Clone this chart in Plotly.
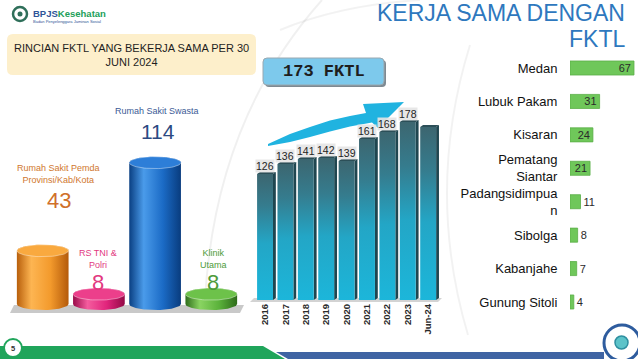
import plotly.graph_objects as go
import numpy as np

W, H = 638, 359

# ---------------- data ----------------
jenis = ["Rumah Sakit Pemda Provinsi/Kab/Kota", "RS TNI & Polri", "Rumah Sakit Swasta", "Klinik Utama"]
jenis_nilai = [43, 8, 114, 8]

tahun = ["2016", "2017", "2018", "2019", "2020", "2021", "2022", "2023", "Jun-24"]
tahun_nilai = [126, 136, 141, 142, 139, 161, 168, 178, 173]
tahun_label = ["126", "136", "141", "142", "139", "161", "168", "178", ""]

kota = ["Medan", "Lubuk Pakam", "Kisaran", "Pematang Siantar", "Padangsidimpuan",
        "Sibolga", "Kabanjahe", "Gunung Sitoli"]
kota_tick = ["Medan", "Lubuk Pakam", "Kisaran", "Pematang<br>Siantar", "Padangsidimpua<br>n",
             "Sibolga", "Kabanjahe", "Gunung Sitoli"]
kota_nilai = [67, 31, 24, 21, 11, 8, 7, 4]

total_fktl = "173 FKTL"
judul = ["KERJA SAMA DENGAN", "FKTL"]
subjudul = "RINCIAN FKTL YANG BEKERJA SAMA PER 30<br>JUNI 2024"


def X(p):
    return p / W


def Y(p):
    return 1 - p / H


SANS = "Liberation Sans, Arial, sans-serif"

fig = go.Figure()

# ---------------- left: cylinders ----------------
cyl_scales = [
    [[0, "#B85F0C"], [0.28, "#FDB552"], [0.65, "#F39A2C"], [1, "#B45A0A"]],
    [[0, "#9A0C4A"], [0.28, "#F45C9E"], [0.65, "#E1247C"], [1, "#930A46"]],
    [[0, "#0A3F82"], [0.28, "#4A9BEA"], [0.65, "#1B6BC6"], [1, "#093C7E"]],
    [[0, "#2F6E1C"], [0.28, "#8AD462"], [0.65, "#5BB23B"], [1, "#2E6C1A"]],
]
cap_colors = ["#F9A93F", "#EC3F8B", "#2D7ED8", "#6DC24A"]
hw, ry = 0.46, 4.84
t = np.linspace(0, np.pi, 40)
ta = np.linspace(0, 2 * np.pi, 80)
for i, v in enumerate(jenis_nilai):
    bx = i - hw * np.cos(t)
    by = -ry * np.sin(t)
    tx = i + hw * np.cos(t)
    ty = v + ry * np.sin(t)
    xs = np.concatenate([bx, tx, [bx[0]]])
    ys = np.concatenate([by, ty, [by[0]]])
    fig.add_trace(go.Scatter(x=xs, y=ys, fill="toself", mode="lines", line=dict(width=0),
                             fillgradient=dict(type="horizontal", colorscale=cyl_scales[i]),
                             hoverinfo="skip", showlegend=False, xaxis="x", yaxis="y"))
    fig.add_trace(go.Scatter(x=i + hw * np.cos(ta), y=v + ry * np.sin(ta), fill="toself",
                             mode="lines", line=dict(width=0.8, color="rgba(255,255,255,0.5)"),
                             fillcolor=cap_colors[i], hoverinfo="skip", showlegend=False,
                             xaxis="x", yaxis="y"))

# ---------------- middle: yearly bars ----------------
bw = 0.39
for i, v in enumerate(tahun_nilai):
    fig.add_trace(go.Scatter(x=[i + bw, i + bw + 0.14, i + bw + 0.14, i + bw, i + bw],
                             y=[0, 2, v + 2, v, 0], fill="toself", mode="lines",
                             line=dict(width=0), fillcolor="#1F4650",
                             hoverinfo="skip", showlegend=False, xaxis="x2", yaxis="y2"))
    fig.add_trace(go.Scatter(x=[i - bw, i + bw, i + bw + 0.14, i - bw + 0.14, i - bw],
                             y=[v, v, v + 2, v + 2, v], fill="toself", mode="lines",
                             line=dict(width=0), fillcolor="#2C4F58",
                             hoverinfo="skip", showlegend=False, xaxis="x2", yaxis="y2"))
    fig.add_trace(go.Scatter(x=[i - bw, i + bw, i + bw, i - bw, i - bw],
                             y=[0, 0, v, v, 0], fill="toself", mode="lines", line=dict(width=0),
                             fillgradient=dict(type="vertical",
                                               colorscale=[[0, "#1CB6DA"], [0.45, "#23A6C6"],
                                                           [0.75, "#357C8E"], [1, "#3C6670"]]),
                             hoverinfo="skip", showlegend=False, xaxis="x2", yaxis="y2"))

# ---------------- right: horizontal bars ----------------
pos = ["inside" if v > 15 else "outside" for v in kota_nilai]
fig.add_trace(go.Bar(x=kota_nilai, y=list(range(len(kota))), orientation="h",
                     marker=dict(color="#6FC75A", line=dict(color="#5BAE48", width=0.8)),
                     width=0.42, text=[str(v) for v in kota_nilai], textposition=pos,
                     insidetextanchor="end", textangle=0,
                     textfont=dict(family=SANS, size=11, color="#2A2A2A"),
                     cliponaxis=False, hovertext=kota, showlegend=False,
                     xaxis="x3", yaxis="y3"))

annotations = []
for i, (v, lab) in enumerate(zip(tahun_nilai, tahun_label)):
    if lab:
        annotations.append(dict(x=i, y=v + 1, xref="x2", yref="y2", text=lab, showarrow=False,
                                yanchor="bottom", xanchor="center", bgcolor="rgba(228,228,228,0.9)",
                                borderpad=0, font=dict(family=SANS, size=10.5, color="#1E1E1E")))

cyl_labels = [
    dict(x=X(157), y=Y(111), text="Rumah Sakit Swasta", font=dict(family=SANS, size=9, color="#3C5A96")),
    dict(x=X(158), y=Y(131), text=str(jenis_nilai[2]), font=dict(family=SANS, size=21, color="#2C4A82")),
    dict(x=X(58), y=Y(174), text="Rumah Sakit Pemda<br>Provinsi/Kab/Kota",
         font=dict(family=SANS, size=9, color="#D0772E")),
    dict(x=X(59), y=Y(200), text=str(jenis_nilai[0]), font=dict(family=SANS, size=22, color="#D0702A")),
    dict(x=X(98), y=Y(259), text="RS TNI &amp;<br>Polri", font=dict(family=SANS, size=9, color="#E2397F")),
    dict(x=X(98), y=Y(282), text=str(jenis_nilai[1]), font=dict(family=SANS, size=22, color="#E2397F")),
    dict(x=X(213), y=Y(259), text="Klinik<br>Utama", font=dict(family=SANS, size=9, color="#4E9B3A")),
    dict(x=X(213), y=Y(282), text=str(jenis_nilai[3]), font=dict(family=SANS, size=22, color="#4E9B3A")),
]
for a in cyl_labels:
    a.update(xref="paper", yref="paper", showarrow=False, xanchor="center", yanchor="middle")
annotations += cyl_labels

annotations += [
    dict(x=X(627), y=Y(13), text=judul[0], xref="paper", yref="paper", showarrow=False,
         xanchor="right", yanchor="middle", font=dict(family=SANS, size=23, color="#2E78BE")),
    dict(x=X(627), y=Y(39), text=judul[1], xref="paper", yref="paper", showarrow=False,
         xanchor="right", yanchor="middle", font=dict(family=SANS, size=23, color="#2E78BE")),
    dict(x=X(131), y=Y(54.5), text=subjudul, xref="paper", yref="paper", showarrow=False,
         xanchor="center", yanchor="middle", font=dict(family=SANS, size=11, color="#1E1E1E")),
    dict(x=X(324), y=Y(71.5), text="<b>" + total_fktl + "</b>", xref="paper", yref="paper", showarrow=False,
         xanchor="center", yanchor="middle", font=dict(family="Liberation Mono, Courier New, monospace",
                                                         size=17, color="#1E1E1E")),
    dict(x=X(31), y=Y(14), text="<b><span style='color:#2F5597'>BPJS</span><span style='color:#22A05A'>Kesehatan</span></b>",
         xref="paper", yref="paper", showarrow=False, xanchor="left", yanchor="middle",
         font=dict(family=SANS, size=9.5)),
    dict(x=X(31), y=Y(22), text="Badan Penyelenggara Jaminan Sosial", xref="paper", yref="paper",
         showarrow=False, xanchor="left", yanchor="middle",
         font=dict(family=SANS, size=4, color="#2F5597")),
    dict(x=X(13), y=Y(348.5), text="<b>5</b>", xref="paper", yref="paper", showarrow=False,
         xanchor="center", yanchor="middle", font=dict(family=SANS, size=7.5, color="#333")),
]


def rpath(x0, y0, x1, y1, r):
    return (f"M {X(x0 + r)},{Y(y0)} L {X(x1 - r)},{Y(y0)} Q {X(x1)},{Y(y0)} {X(x1)},{Y(y0 + r)} "
            f"L {X(x1)},{Y(y1 - r)} Q {X(x1)},{Y(y1)} {X(x1 - r)},{Y(y1)} "
            f"L {X(x0 + r)},{Y(y1)} Q {X(x0)},{Y(y1)} {X(x0)},{Y(y1 - r)} "
            f"L {X(x0)},{Y(y0 + r)} Q {X(x0)},{Y(y0)} {X(x0 + r)},{Y(y0)} Z")


def ppath(pts, close=True):
    s = "M " + " L ".join(f"{X(a)},{Y(b)}" for a, b in pts)
    return s + (" Z" if close else "")


arrow_pts = [(268, 144), (290, 134), (310, 127), (330, 120.5), (350, 116), (366, 113),
             (363, 104), (404, 102), (378, 128), (372, 122.5), (350, 126.5), (330, 131.5),
             (310, 137), (290, 142), (268, 146)]

shapes = [
    dict(type="path", path=f"M {X(322)},{Y(0)} Q {X(215)},{Y(120)} {X(205)},{Y(300)}",
         line=dict(color="rgba(0,0,0,0.06)", width=2), layer="below"),
    dict(type="path", path=f"M {X(280)},{Y(30)} Q {X(340)},{Y(5)} {X(420)},{Y(0)}",
         line=dict(color="rgba(0,0,0,0.05)", width=2), layer="below"),
    dict(type="path", path=f"M {X(470)},{Y(45)} Q {X(425)},{Y(190)} {X(468)},{Y(335)}",
         line=dict(color="rgba(0,0,0,0.05)", width=2), layer="below"),
    dict(type="path", path=rpath(7, 34, 256, 75, 6), fillcolor="#FDEFCB", line=dict(width=0), layer="below"),
    dict(type="path", path=rpath(265, 60, 386, 87, 4), fillcolor="#7E8A92", line=dict(width=0), layer="below"),
    dict(type="path", path=rpath(263, 58, 384, 85, 4), fillcolor="#7DC9EC",
         line=dict(color="#9AA8B0", width=1), layer="below"),
    dict(type="path", path=ppath([(14, 305), (244, 305), (240, 313), (10, 313)]),
         fillcolor="#C9C9C9", line=dict(width=0), layer="below"),
    dict(type="path", path=ppath([(254, 298), (442, 298), (438, 302), (250, 302)]),
         fillcolor="#D3D3D3", line=dict(width=0), layer="below"),
    dict(type="path", path=ppath(arrow_pts), fillcolor="#20B3E0", line=dict(width=0), layer="above"),
    dict(type="path", path=ppath([(0, 346), (263, 346), (285, 359), (0, 359)]),
         fillcolor="#20A55B", line=dict(width=0)),
    dict(type="path", path=ppath([(276, 352), (604, 352), (604, 359), (288, 359)]),
         fillcolor="#3F64A3", line=dict(width=0)),
    dict(type="circle", x0=X(4), x1=X(22), y0=Y(357), y1=Y(339), fillcolor="white",
         line=dict(color="#20A55B", width=2)),
    dict(type="circle", x0=X(604), x1=X(640), y0=Y(361), y1=Y(325), fillcolor="white",
         line=dict(color="#2E5C9E", width=3)),
    dict(type="circle", x0=X(615), x1=X(628), y0=Y(349), y1=Y(336), fillcolor="#5CC3C9",
         line=dict(color="#2E8FA0", width=1.5)),
    dict(type="circle", x0=X(13), x1=X(27), y0=Y(21), y1=Y(7), fillcolor="white",
         line=dict(color="#2F6F5A", width=2.5)),
    dict(type="circle", x0=X(17.5), x1=X(22.5), y0=Y(16.5), y1=Y(11.5), fillcolor="#2F6F5A",
         line=dict(width=0)),
]
for s in shapes:
    s.update(xref="paper", yref="paper")

fig.update_layout(
    width=W, height=H, margin=dict(l=0, r=0, t=0, b=0),
    paper_bgcolor="white", plot_bgcolor="rgba(0,0,0,0)",
    showlegend=False, annotations=annotations, shapes=shapes,
    uniformtext=dict(minsize=10.5, mode="show"),
    xaxis=dict(domain=[X(9), X(245)], range=[-0.6, 3.6], visible=False, fixedrange=True),
    yaxis=dict(domain=[Y(312), Y(130)], range=[-6.45, 140.3], visible=False, fixedrange=True),
    xaxis2=dict(domain=[X(252.8), X(440.4)], range=[-0.6, 8.6], tickmode="array",
                tickvals=list(range(len(tahun))), ticktext=["<b>" + s + "</b>" for s in tahun],
                tickangle=-90, showgrid=False, zeroline=False, showline=False, ticks="",
                tickfont=dict(family=SANS, size=9.5, color="#2A2A2A"),
                anchor="free", position=Y(301), fixedrange=True),
    yaxis2=dict(domain=[Y(300), Y(90)], range=[0, 210], visible=False, anchor="x2", fixedrange=True),
    xaxis3=dict(domain=[X(570), 1], range=[0, 71.2], visible=False, anchor="y3", fixedrange=True),
    yaxis3=dict(domain=[Y(318.7), Y(51.3)], range=[7.5, -0.5], tickmode="array",
                tickvals=list(range(len(kota))), ticktext=kota_tick, showgrid=False,
                zeroline=False, showline=False, ticks="outside", ticklen=9,
                tickcolor="rgba(0,0,0,0)",
                tickfont=dict(family=SANS, size=13, color="#111111"),
                anchor="x3", fixedrange=True),
)

fig.write_html("out.html", post_script="document.body.style.margin='0';",
               config={"displayModeBar": False})
